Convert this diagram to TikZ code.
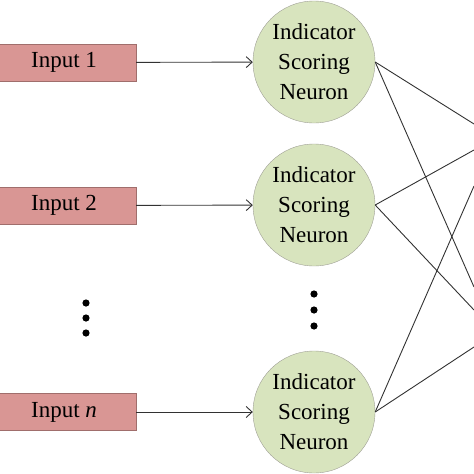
\documentclass[tikz,border=0pt]{standalone}
\usepackage{fontspec}
\setmainfont{Liberation Serif}
\usepackage{tikz}
\usetikzlibrary{arrows.meta}

\definecolor{inred}{RGB}{217,150,148}
\definecolor{inedge}{RGB}{160,110,108}
\definecolor{neugreen}{RGB}{216,228,190}
\definecolor{neuedge}{RGB}{160,160,150}
\definecolor{wire}{RGB}{50,50,50}

\begin{document}
\begin{tikzpicture}
  [x=1pt,y=-1pt,
   inbox/.style={rectangle,draw=inedge,fill=inred,minimum width=160pt,minimum height=37pt,
     inner sep=0pt,font=\fontsize{23}{26}\selectfont},
   neuron/.style={circle,draw=neuedge,fill=neugreen,minimum size=122pt,inner sep=0pt,
     align=center,font=\fontsize{23}{30}\selectfont},
   wire/.style={draw=wire,line width=0.9pt}]
  \useasboundingbox (0,0) rectangle (474,474);
  \clip (0,0) rectangle (474,474);

  \node[inbox] (in1) at (56,62.5) {\hspace*{16pt}Input 1};
  \node[inbox] (in2) at (56,205.5) {\hspace*{16pt}Input 2};
  \node[inbox] (inn) at (56,412) {\hspace*{16pt}Input \textit{n}};

  \node[neuron] (s1) at (314,62) {Indicator\\Scoring\\Neuron};
  \node[neuron] (s2) at (314,205) {Indicator\\Scoring\\Neuron};
  \node[neuron] (sn) at (314,412) {Indicator\\Scoring\\Neuron};

  \coordinate (o1) at (474,124);
  \coordinate (o2) at (474,150);
  \coordinate (o3) at (474,186);
  \coordinate (o4) at (474,287);
  \coordinate (o5) at (474,310);
  \coordinate (o6) at (474,347);

  \foreach \from/\to in {in1/s1,in2/s2,inn/sn}
    \draw[wire,-{Straight Barb[length=6pt,width=11pt]}] (\from) -- (\to);

  \foreach \from/\to in {s1/o1,s1/o4,s2/o2,s2/o5,sn/o3,sn/o6}
    \draw[wire] (\from.east) -- (\to);

  % ellipsis dots
  \foreach \y in {303,318,333}
    \fill (86,\y) circle (3.6pt);
  \foreach \y in {294,310,326}
    \fill (314,\y) circle (3.6pt);
\end{tikzpicture}
\end{document}
